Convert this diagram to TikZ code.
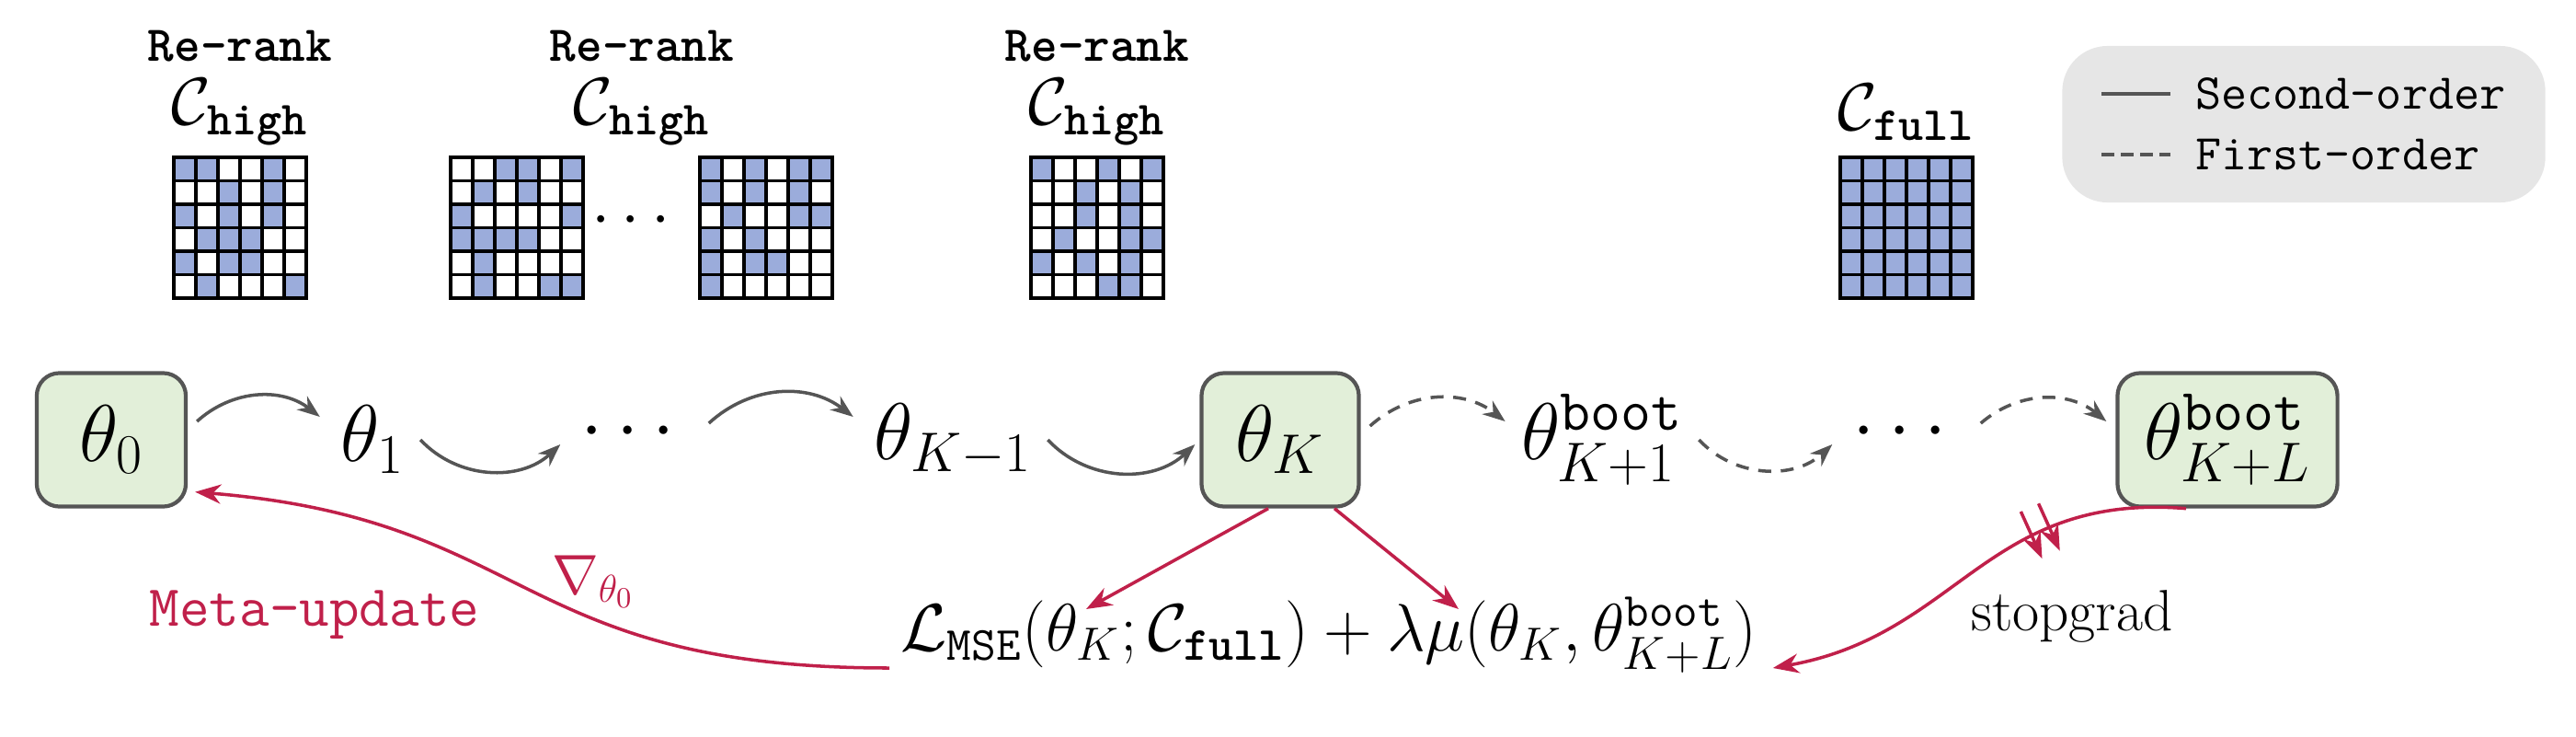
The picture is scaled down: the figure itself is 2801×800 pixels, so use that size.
\documentclass[tikz,border=0pt]{standalone}
\usepackage{amsmath}
\usetikzlibrary{arrows.meta,decorations.markings}
\definecolor{cblue}{HTML}{9BACDB}
\definecolor{cgreen}{HTML}{E2EFD9}
\definecolor{cred}{HTML}{C0204A}
\definecolor{cgray}{HTML}{555555}
\definecolor{lgray}{HTML}{E6E6E6}
\begin{document}
\begin{tikzpicture}[x=0.01cm,y=-0.01cm,
  big/.style={font=\fontsize{26}{30}\selectfont},
  mid/.style={font=\fontsize{21}{25}\selectfont},
  lab/.style={font=\fontsize{15.5}{18}\selectfont},
  box/.style={draw=cgray,line width=1.2pt,fill=cgreen,rounded corners=7pt,minimum height=1.45cm},
  so/.style={-{Stealth[length=7pt]},cgray,line width=1pt},
  fo/.style={so,dash pattern=on 4pt off 3pt},
  rd/.style={-{Stealth[length=8pt]},cred,line width=1pt}]
\useasboundingbox (0,0) rectangle (2801,800);
% grids
\newcommand{\mygrid}[3]{% x y pattern
  \foreach \row [count=\r from 0] in {#3}{
    \foreach \v [count=\c from 0] in \row{
      \ifnum\v=1 \fill[cblue] (#1+\c*24,#2+\r*25.5) rectangle ++(24,25.5);\fi
    }}
  \foreach \k in {1,...,5}{
    \draw[line width=0.9pt] (#1+\k*24,#2) -- (#1+\k*24,#2+153);
    \draw[line width=0.9pt] (#1,#2+\k*25.5) -- (#1+144,#2+\k*25.5);}
  \draw[line width=1.3pt] (#1,#2) rectangle (#1+144,#2+153);}
\mygrid{189}{171}{{1,1,0,0,1,0},{0,0,1,0,1,0},{1,0,1,0,1,0},{0,1,1,1,0,0},{1,0,1,1,0,0},{0,1,0,0,0,1}}
\mygrid{490}{171}{{0,0,1,1,0,1},{0,1,0,1,0,0},{1,0,0,0,0,1},{1,1,1,1,0,0},{0,1,0,0,0,0},{0,1,0,0,1,1}}
\mygrid{761}{171}{{1,0,1,0,1,1},{1,0,1,0,1,0},{0,1,0,0,1,1},{1,0,1,0,0,0},{1,0,1,1,0,0},{1,0,0,0,0,0}}
\mygrid{1121}{171}{{1,0,0,1,0,1},{0,0,1,0,1,0},{0,0,1,0,1,0},{0,1,0,0,1,1},{1,0,1,0,1,0},{0,0,0,1,1,0}}
\mygrid{2001}{171}{{1,1,1,1,1,1},{1,1,1,1,1,1},{1,1,1,1,1,1},{1,1,1,1,1,1},{1,1,1,1,1,1},{1,1,1,1,1,1}}
\node[mid] (gdots) at (692,240) {$\cdots$};
% labels
\foreach \n/\x in {a/261,b/698,c/1193}{
  \node[lab] (rr\n) at (\x,50) {\texttt{\textbf{Re-rank}}};
  \node[mid] (ch\n) at (\x,122) {$\mathcal{C}_{\texttt{\textbf{high}}}$};}
\node[mid] (cf) at (2073,122) {$\mathcal{C}_{\texttt{\textbf{full}}}$};
% legend
\node[fill=lgray,rounded corners=14pt,minimum width=5.25cm,minimum height=1.7cm] (leg) at (2505,135) {};
\coordinate (l1a) at (2285,102); \coordinate (l1b) at (2360,102);
\coordinate (l2a) at (2285,168); \coordinate (l2b) at (2360,168);
\draw[cgray,line width=1.2pt] (l1a) -- (l1b);
\draw[cgray,line width=1.2pt,dash pattern=on 4pt off 2pt] (l2a) -- (l2b);
\node[lab,anchor=west] (lt1) at (2375,102) {\texttt{Second-order}};
\node[lab,anchor=west] (lt2) at (2375,168) {\texttt{First-order}};
% nodes
\node[box,big,minimum width=1.62cm] (t0) at (121,478) {$\theta_0$};
\node[big] (t1) at (405,478) {$\theta_1$};
\node[big] (d1) at (690,470) {$\cdots$};
\node[big] (tk1) at (1036,478) {$\theta_{K-1}$};
\node[box,big,minimum width=1.71cm] (tk) at (1392,478) {$\theta_K$};
\node[big] (tb1) at (1742,478) {$\theta^{\texttt{boot}}_{K+1}$};
\node[big] (d2) at (2073,470) {$\cdots$};
\node[box,big,minimum width=2.39cm] (tb) at (2422,478) {$\theta^{\texttt{boot}}_{K+L}$};
\node[mid] (loss) at (1445,690) {$\mathcal{L}_{\texttt{MSE}}(\theta_K;\mathcal{C}_{\texttt{\textbf{full}}})+\lambda\mu(\theta_K,\theta^{\texttt{boot}}_{K+L})$};
\node[text=cred,font=\fontsize{18}{20}\selectfont] (mu) at (342,668) {\texttt{Meta-update}};
\node[text=cred,font=\fontsize{18}{20}\selectfont] (nab) at (645,632) {$\nabla_{\theta_0}$};
\node[font=\fontsize{18}{20}\selectfont] (sg) at (2253,670) {stopgrad};
% chain arrows
\draw[so] ([shift={(10,-20)}]t0.east) to[bend left=40] ([shift={(-10,-25)}]t1.west);
\draw[so] ([shift={(5,0)}]t1.east) to[bend right=45] ([shift={(-10,13)}]d1.west);
\draw[so] ([shift={(10,-10)}]d1.east) to[bend left=40] ([shift={(-10,-25)}]tk1.west);
\draw[so] ([shift={(5,0)}]tk1.east) to[bend right=45] ([shift={(-5,5)}]tk.west);
\draw[fo] ([shift={(10,-15)}]tk.east) to[bend left=40] ([shift={(-5,-20)}]tb1.west);
\draw[fo] ([shift={(5,0)}]tb1.east) to[bend right=45] ([shift={(-10,13)}]d2.west);
\draw[fo] ([shift={(10,-10)}]d2.east) to[bend left=40] ([shift={(-10,-20)}]tb.west);
% red arrows
\coordinate (la) at (1181,662);
\coordinate (lb) at (1586,662);
\draw[rd] ([shift={(-13,0)}]tk.south) -- (la);
\draw[rd] ([shift={(59,0)}]tk.south) -- (lb);
\draw[rd] ([shift={(0,36)}]loss.west) .. controls (560,726) and (580,565) .. ([shift={(8,-18)}]t0.south east);
\draw[rd,postaction={decorate},decoration={markings,mark=at position 0.33 with {
   \draw[cred,line width=1pt] (-3pt,-8pt) -- (-3pt,8pt); \draw[cred,line width=1pt] (3pt,-8pt) -- (3pt,8pt);}}]
  ([shift={(-45,0)}]tb.south) .. controls (2160,535) and (2130,690) .. ([shift={(5,36)}]loss.east);
\end{tikzpicture}
\end{document}
